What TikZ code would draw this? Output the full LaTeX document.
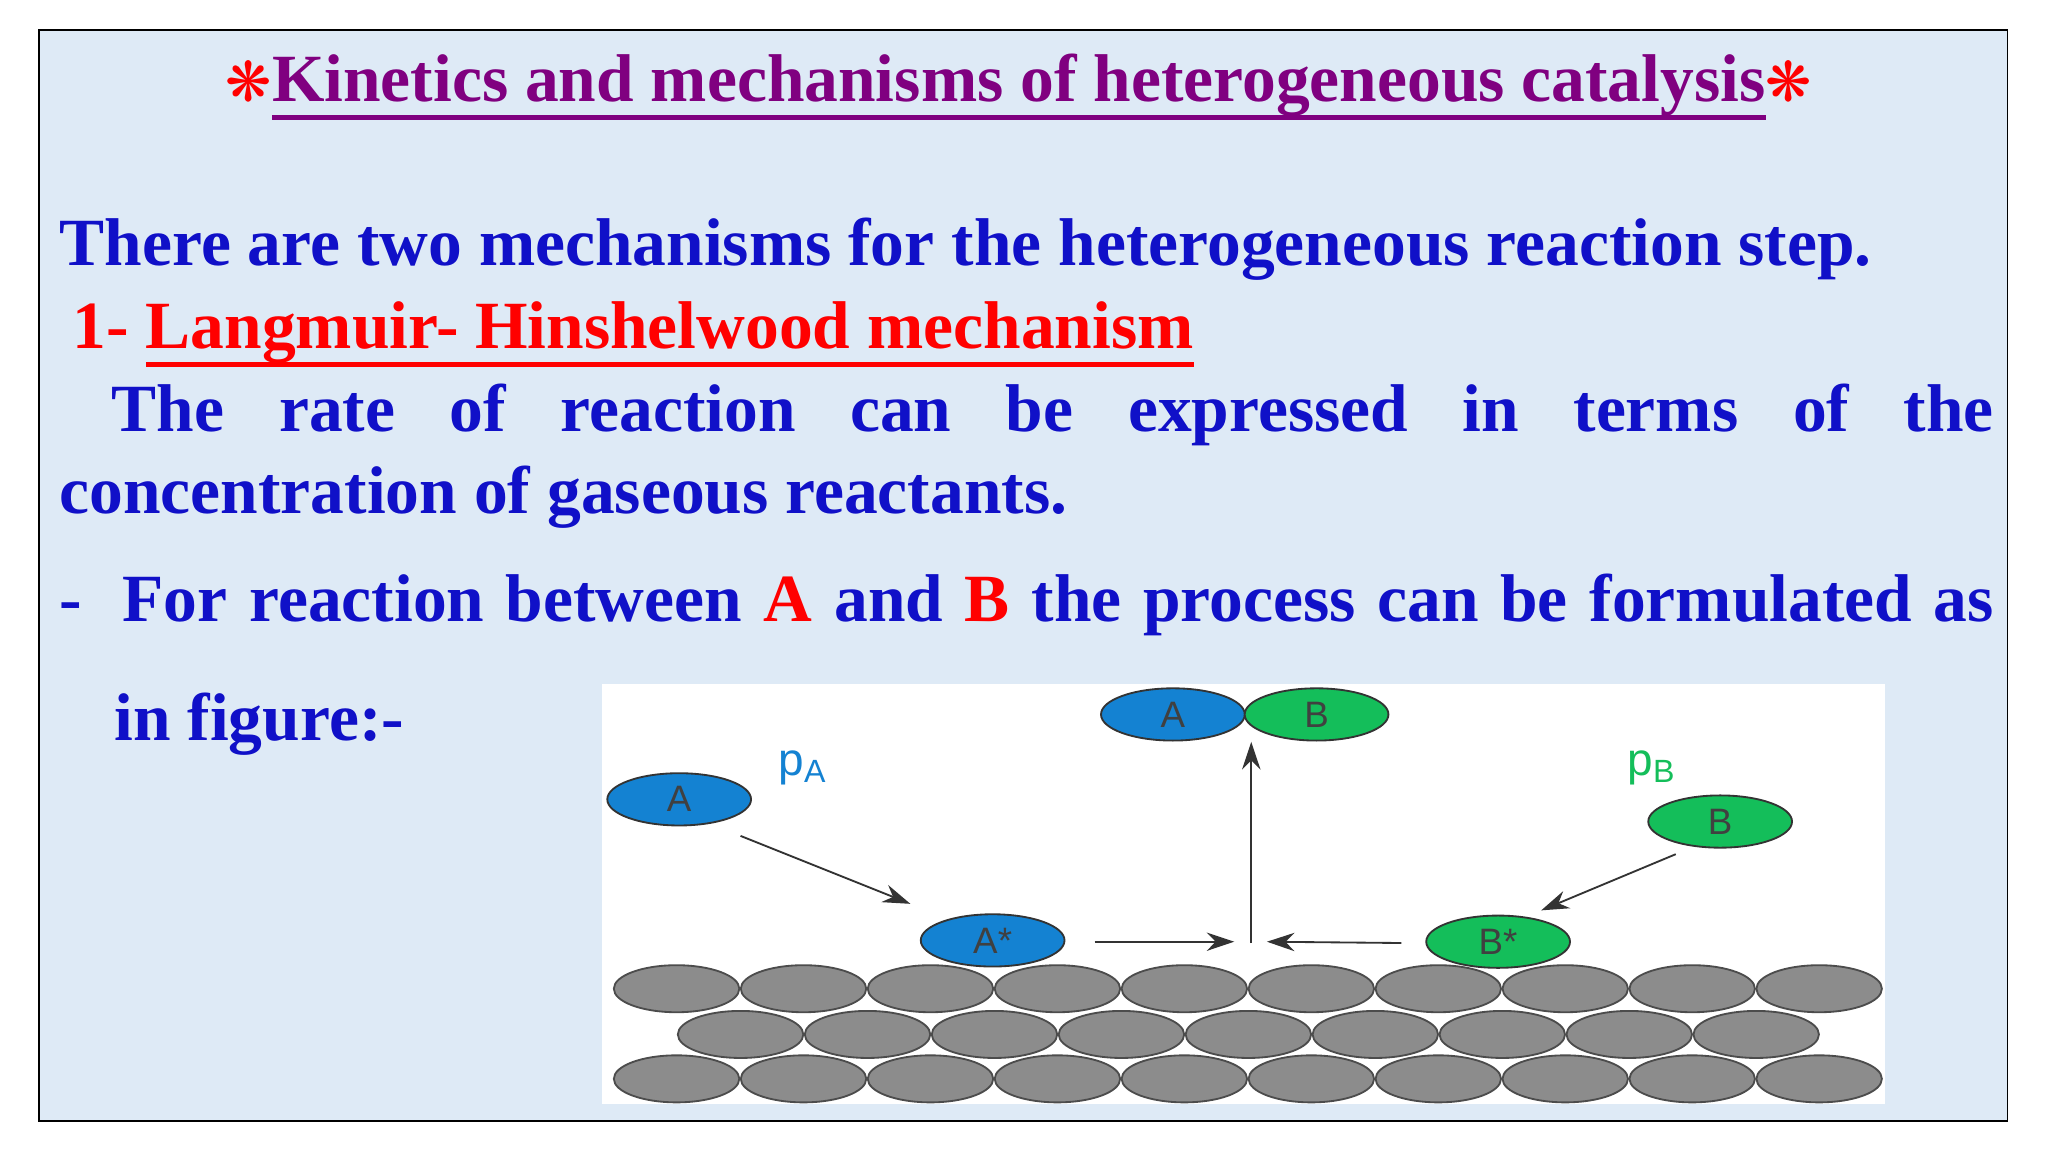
\documentclass[tikz,border=0pt]{standalone}
\usepackage{fontspec}
\setmainfont{Liberation Serif}
\newfontfamily\symfont{DejaVu Sans}
\newfontfamily\labfont{Liberation Sans}
\definecolor{slidebg}{RGB}{222,234,246}
\definecolor{txtblue}{RGB}{16,16,200}
\definecolor{ttlpurple}{RGB}{128,0,128}
\definecolor{atomgray}{RGB}{140,140,140}
\definecolor{molblue}{RGB}{20,130,210}
\definecolor{molgreen}{RGB}{20,190,90}
\newcommand{\thickul}[1]{\setbox0\hbox{#1}\rlap{\rule[-4pt]{\wd0}{1.2pt}}\box0}
\tikzset{
  line/.style={anchor=base west, inner sep=0pt, font=\fontsize{14.7}{17}\selectfont\bfseries, text=txtblue},
  atom/.style={draw=black!70, fill=atomgray, ellipse, minimum width=0.96cm, minimum height=0.36cm, inner sep=0pt},
  molA/.style={draw=black!80, fill=molblue, ellipse, minimum width=1.1cm, minimum height=0.4cm, inner sep=0pt, font=\labfont\fontsize{8}{8}\selectfont\color{black!75}},
  molB/.style={molA, fill=molgreen},
  flow/.style={-{Stealth[length=6pt,width=4pt]}, black!80, thin}
}
\usetikzlibrary{shapes.geometric,arrows.meta}
\begin{document}
\begin{tikzpicture}[x=0.01cm, y=-0.01cm]
  \useasboundingbox (0,0) rectangle (1568,882);
  \fill[white] (0,0) rectangle (1568,882);
  \draw[fill=slidebg] (30,23) rectangle (1537,858);

  % text
  \node[line, anchor=base, text=ttlpurple] (title) at (780,78)
    {\textcolor{red}{\symfont\fontsize{12}{12}\selectfont ❋}\thickul{Kinetics and mechanisms of heterogeneous catalysis}\textcolor{red}{\symfont\fontsize{12}{12}\selectfont ❋}};
  \node[line] (intro) at (45,203) {There are two mechanisms for the heterogeneous reaction step.};
  \node[line, text=red] (lh) at (55,267) {1- \thickul{Langmuir- Hinshelwood mechanism}};
  \node[line] (rate) at (85,330) {\makebox[14.40cm][s]{The rate of reaction can be expressed in terms of the}};
  \node[line] (conc) at (45,393) {concentration of gaseous reactants.};
  \node[line] (react) at (45,476) {\makebox[14.80cm][s]{-\hspace{0.6em}For reaction between \textcolor{red}{A} and \textcolor{red}{B} the process can be formulated as}};
  \node[line] (infig) at (87,567) {in figure:-};

  % figure
  \fill[white] (461,524) rectangle (1443,845);
  \foreach \i in {0,...,9} {
    \node[atom] (r1\i) at (518+97.2*\i,757) {};
  }
  \foreach \i in {0,...,9} {
    \node[atom] (r3\i) at (518+97.2*\i,826) {};
  }
  \foreach \i in {0,...,8} {
    \node[atom] (r2\i) at (567+97.2*\i,792) {};
  }

  \node[molA] (A) at (520,612) {A};
  \node[molA] (Aads) at (760,720) {A*};
  \node[molB] (Bads) at (1147,721) {B*};
  \node[molB] (B) at (1317,629) {B};
  \node[molA] (ABa) at (898,547) {A};
  \node[molB] (ABb) at (1008,547) {B};
  \node[text=molblue, font=\labfont\fontsize{10}{10}\selectfont] (pA) at (615,588) {p\textsubscript{A}};
  \node[text=molgreen, font=\labfont\fontsize{10}{10}\selectfont] (pB) at (1265,588) {p\textsubscript{B}};

  \coordinate (meet) at (958,722);
  \draw[flow] (567,640) -- (697,692);
  \draw[flow] (1283,654) -- (1180,697);
  \draw[flow] (838,721) -- (945,721);
  \draw[flow] (1073,722) -- (970,721);
  \draw[flow] (meet) -- (958,568);
\end{tikzpicture}
\end{document}
